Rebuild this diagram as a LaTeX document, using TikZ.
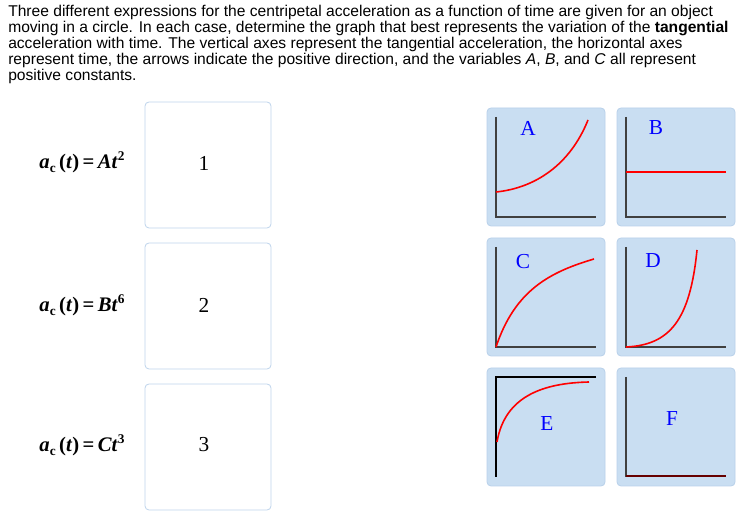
\documentclass[tikz,border=0pt]{standalone}
\usepackage{fontspec}
\setmainfont{Liberation Serif}
\newfontfamily\sansf{Liberation Sans}
\definecolor{pnl}{RGB}{201,222,242}
\definecolor{pnlb}{RGB}{184,208,234}
\definecolor{boxb}{RGB}{190,212,236}
\newcommand{\acfrm}[2]{\textbf{\textit{a}}\raisebox{-3pt}{\fontsize{10}{10}\selectfont\textbf{c}}\,\textbf{(\textit{t})\,=\,\textit{#1t}}\raisebox{6pt}{\fontsize{10}{10}\selectfont\textbf{#2}}}
\begin{document}
\begin{tikzpicture}[x=0.75pt,y=-0.75pt,
 panel/.style={fill=pnl,draw=pnlb,rounded corners=3pt,line width=0.6pt},
 ansbox/.style={fill=white,draw=boxb,rounded corners=3pt,line width=0.6pt},
 axis/.style={draw=black!75,line width=1pt},
 crv/.style={draw=red,line width=1.2pt},
 lab/.style={text=blue,font=\fontsize{16}{18}\selectfont},
 num/.style={font=\fontsize{16}{18}\selectfont},
 frm/.style={font=\fontsize{15.5}{17}\selectfont}]
\useasboundingbox (0,0) rectangle (754,516);
\node[anchor=north west,align=left,inner sep=0pt,font=\sansf\fontsize{11.7}{12}\selectfont] (txt) at (8,5)
{Three different expressions for the centripetal acceleration as a function of time are given for an object\\
moving in a circle. In each case, determine the graph that best represents the variation of the \textbf{tangential}\\
acceleration with time. The vertical axes represent the tangential acceleration, the horizontal axes\\
represent time, the arrows indicate the positive direction, and the variables \textit{A}, \textit{B}, and \textit{C} all represent\\
positive constants.};
% answer boxes
\draw[ansbox] (145,102) rectangle (271,228);
\draw[ansbox] (145,243) rectangle (271,369);
\draw[ansbox] (145,384) rectangle (271,510);
\node[num] (n1) at (204,163) {1};
\node[num] (n2) at (204,305) {2};
\node[num] (n3) at (204,445) {3};
\node[frm] (f1) at (82,162) {\acfrm{A}{2}};
\node[frm] (f2) at (82,305) {\acfrm{B}{6}};
\node[frm] (f3) at (82,445) {\acfrm{C}{3}};
% panels
\foreach \x in {487,617}{\foreach \y in {108,238,368}{\draw[panel] (\x,\y) rectangle ++(118,118);}}
% A
\draw[axis] (496,117) -- (496,217) -- (596,217);
\draw[crv] (496,192) .. controls (535,188) and (570,165) .. (588,120);
\node[lab] (lA) at (528,128) {A};
% B
\draw[axis] (626,117) -- (626,217) -- (726,217);
\draw[crv] (626,172) -- (726,172);
\node[lab] (lB) at (656,128) {B};
% C
\draw[axis] (496,247) -- (496,347) -- (596,347);
\draw[crv] (496,347) .. controls (515,290) and (550,272) .. (594,259);
\node[lab] (lC) at (523,262) {C};
% D
\draw[axis] (626,247) -- (626,347) -- (726,347);
\draw[crv] (626,347) .. controls (670,345) and (690,320) .. (697,250);
\node[lab] (lD) at (653,261) {D};
% E
\draw[draw=black,line width=0.8pt] (596,377) -- (496,377) -- (496,477);
\draw[crv] (497,442) .. controls (505,395) and (545,383) .. (589,382);
\node[lab] (lE) at (547,424) {E};
% F
\draw[axis] (626,377) -- (626,477);
\draw[draw=black!60!red,line width=1.4pt] (626,476) -- (726,476);
\node[lab] (lF) at (672,419) {F};
\end{tikzpicture}
\end{document}
